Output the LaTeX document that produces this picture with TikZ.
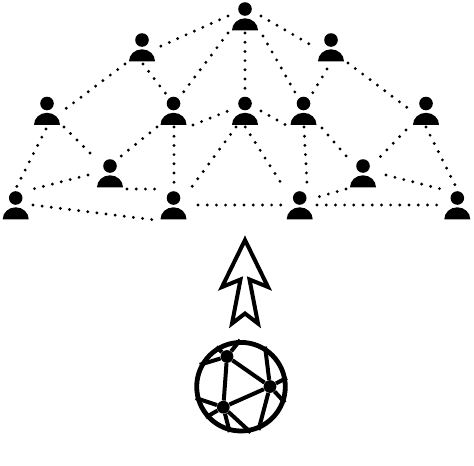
\documentclass[tikz,border=0pt]{standalone}
\begin{document}
\begin{tikzpicture}[x=0.25mm,y=-0.25mm]
  \tikzset{
    usernode/.style={inner sep=0pt,minimum width=7mm,minimum height=10mm},
    linkdots/.style={line width=0.8mm,line cap=round,dash pattern=on 0pt off 2.3mm},
    hubnode/.style={circle,fill=black,inner sep=0pt,minimum size=3.2mm},
    globeline/.style={line width=1mm}
  }
  \useasboundingbox (0,0) rectangle (474,466);

  % people
  \foreach \n/\x/\y in {
    userA/245/18, userB/142/49, userC/331/49,
    userD/47/112.5, userE/173.5/112.5, userF/245/112.5, userG/303.5/112.5, userH/426/112.5,
    userI/110/175, userJ/363/175,
    userK/15.7/207, userL/173.5/207, userM/299.7/207, userN/457.3/207}
  {
    \node[usernode] (\n) at (\x,\y) {};
    \fill (\x,\y-9) circle[radius=1.7mm];
    \fill (\x-13,\y+12.3) arc[start angle=180,end angle=0,x radius=3.25mm,y radius=3mm] -- cycle;
  }

  % links
  \foreach \a/\p/\b/\q in {
    userA/{-17,-2}/userB/{17,-2},
    userB/{-17,15}/userD/{17,-2.5},
    userB/{1,15}/userE/{-7.5,-18.5},
    userA/{-17,15}/userE/{8.5,-18.5},
    userD/{-1,16.5}/userK/{0.3,-19},
    userD/{17,14.5}/userI/{-19,-21},
    userE/{-16.5,14.5}/userI/{10,-18},
    userE/{19.5,12.5}/userF/{-17,-1.5},
    userE/{0.5,14.5}/userL/{0.5,-23},
    userI/{-22,0}/userK/{17.3,-18},
    userI/{17,14}/userL/{-17.5,-18},
    userK/{17.3,-2}/userL/{-18.5,13},
    userL/{24.5,-2}/userM/{-16.7,-2},
    userF/{-9,14.5}/userL/{17.5,-19},
    userF/{0.3,14.5}/userM/{-18.7,-24},
    userA/{0,15}/userF/{0,-22.5},
    userA/{18,18}/userG/{-7.5,-18.5},
    userA/{16,-2}/userC/{-20,-4},
    userC/{-4,20}/userG/{8.5,-18.5},
    userF/{16,-1.5}/userG/{-17.5,12.5},
    userC/{17,14}/userH/{-17,-3.5},
    userG/{0.5,14.5}/userM/{7.3,-23},
    userG/{18.5,15.5}/userJ/{-16,-18},
    userH/{-20,17.5}/userJ/{17,-18},
    userH/{0,14.5}/userN/{-1.3,-20},
    userJ/{23,0}/userN/{-16.3,-18},
    userJ/{-17,14}/userM/{18.3,-10},
    userM/{17.3,-2}/userN/{-16.3,-2}}
  {
    \draw[linkdots] ([shift={(\p)}]\a.center) -- ([shift={(\q)}]\b.center);
  }

  % arrow
  \draw[line width=1mm,miter limit=10] (245,240) -- (268,287) -- (249.5,279.5) -- (258,323.5)
    -- (245,313.5) -- (232,323.5) -- (240.5,279.5) -- (222,287) -- cycle;

  % globe
  \node[circle,draw,line width=1.2mm,inner sep=0pt,minimum size=22.15mm] (globe) at (241,386.7) {};
  \node[hubnode] (hubA) at (227,356.5) {};
  \node[hubnode] (hubB) at (270,386.5) {};
  \node[hubnode] (hubC) at (223.3,407.2) {};
  \draw[globeline] (hubA) -- (hubB) -- (hubC) -- (hubA);
  \foreach \h/\ang in {hubA/152, hubA/122, hubA/91, hubB/59, hubB/11, hubB/340, hubB/292,
    hubC/194, hubC/221, hubC/256, hubC/282}
  {
    \draw[globeline] (\h) -- (globe.\ang);
  }
\end{tikzpicture}
\end{document}
